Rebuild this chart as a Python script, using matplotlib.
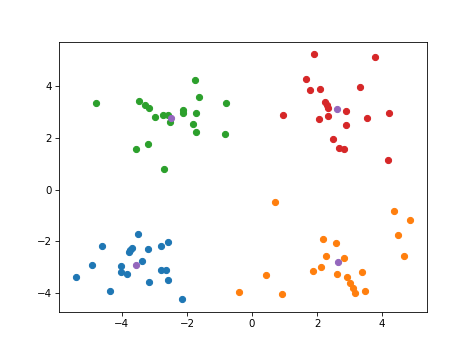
import numpy as np
import matplotlib
matplotlib.use("Agg")
import matplotlib.pyplot as plt

# four k-means style clusters
blue_x = [-3.50, -4.61, -2.57, -2.79, -3.20, -3.69, -3.74, -3.79, -3.38, -4.91,
          -4.03, -4.02, -3.84, -5.41, -2.79, -2.65, -3.18, -2.59, -4.35, -2.14]
blue_y = [-1.73, -2.19, -2.01, -2.17, -2.28, -2.25, -2.33, -2.43, -2.76, -2.92,
          -2.97, -3.19, -3.26, -3.37, -3.11, -3.11, -3.56, -3.51, -3.94, -4.24]

orange_x = [0.71, 4.36, 4.85, 4.48, 4.66, 2.19, 2.59, 2.27, 2.81, 2.11, 1.86,
            2.61, 3.37, 0.43, 2.93, 3.02, 3.09, 3.16, 3.48, 0.92, -0.41]
orange_y = [-0.48, -0.81, -1.16, -1.75, -2.57, -1.91, -2.05, -2.57, -2.66, -2.99, -3.16,
            -3.25, -3.19, -3.32, -3.37, -3.61, -3.81, -4.00, -3.94, -4.03, -3.96]

green_x = [-4.80, -3.46, -3.28, -3.16, -2.98, -2.73, -2.57, -2.53, -2.13, -2.13,
           -1.76, -1.63, -1.71, -1.80, -1.71, -0.80, -0.82, -3.21, -3.57, -2.70]
green_y = [3.34, 3.42, 3.25, 3.16, 2.81, 2.90, 2.88, 2.62, 3.07, 2.94,
           4.22, 3.56, 2.94, 2.53, 2.22, 3.34, 2.16, 1.77, 1.55, 0.78]

red_x = [1.89, 3.78, 1.67, 1.77, 2.09, 3.32, 2.25, 2.30, 2.32, 2.89,
         0.95, 2.05, 2.32, 3.52, 4.21, 2.89, 2.49, 2.66, 2.82, 4.18]
red_y = [5.23, 5.12, 4.28, 3.86, 3.88, 3.97, 3.38, 3.28, 3.15, 3.02,
         2.90, 2.74, 2.85, 2.76, 2.97, 2.48, 1.96, 1.59, 1.56, 1.13]

# cluster centres (purple dots)
centre_x = [-3.55, 2.63, -2.48, 2.62]
centre_y = [-2.92, -2.79, 2.78, 3.11]

# reference looks like a default 640x480 figure shrunk down, so dpi 74 keeps
# the text and marker sizes in proportion
fig = plt.figure(figsize=(474 / 74, 350 / 74), dpi=74)
plt.scatter(blue_x, blue_y, color="C0")
plt.scatter(orange_x, orange_y, color="C1")
plt.scatter(green_x, green_y, color="C2")
plt.scatter(red_x, red_y, color="C3")
plt.scatter(centre_x, centre_y, color="C4")
plt.savefig("out.png", dpi=74)
